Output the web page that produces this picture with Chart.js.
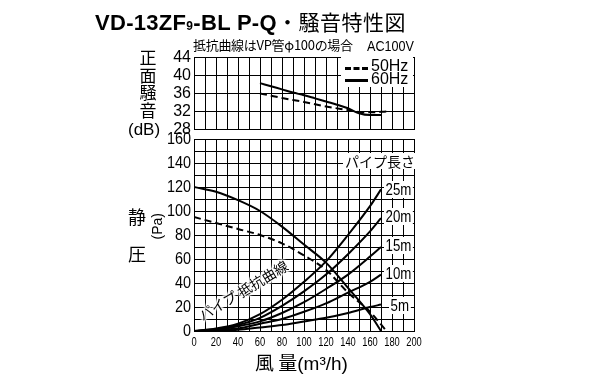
<!DOCTYPE html>
<html>
<head>
<meta charset="utf-8">
<script src="https://cdn.jsdelivr.net/npm/chart.js@4"></script>
<style>
  body { margin: 0; background: #fff; }
  #wrap { position: relative; width: 600px; height: 374px; overflow: hidden; background: #fff; }
  canvas { position: absolute; left: 0; top: 0; }
  .t { position: absolute; white-space: nowrap; color: #000; line-height: 1; }
  .jp { font-family: "Noto Sans CJK JP", sans-serif; }
  .ls { font-family: "Liberation Sans", sans-serif; }
  .wb { background: #fff; }
  .len { font-size: 17px; padding: 0 2px; transform: scaleX(0.78); transform-origin: left center; }
</style>
</head>
<body>
<div id="wrap">
  <canvas id="noise" width="600" height="374"></canvas>
  <canvas id="pq" width="600" height="374"></canvas>

  <div class="t" style="left:95px;top:6px;font:bold 22px 'Liberation Sans',sans-serif;letter-spacing:0.3px;">VD-13ZF<span style="font-size:12px;">9</span>-BL P-Q<span class="jp" style="font-weight:normal;font-size:21px;letter-spacing:0.5px;">・騒音特性図</span></div>

  <div class="t jp" style="left:193px;top:38px;font-size:13px;letter-spacing:-0.3px;">抵抗曲線はVP管φ100の場合</div>
  <div class="t ls" style="left:367px;top:39px;font-size:14px;transform:scaleX(0.9);transform-origin:left top;">AC100V</div>

  <div class="t jp" style="left:139px;top:48px;font-size:17px;line-height:17.7px;width:18px;text-align:center;">正<br>面<br>騒<br>音</div>
  <div class="t ls" style="left:128px;top:121px;font-size:17px;">(dB)</div>

  <div class="t jp" style="left:128px;top:207px;font-size:18px;">静</div>
  <div class="t jp" style="left:128px;top:244px;font-size:18px;">圧</div>
  <div class="t ls" style="left:150px;top:213px;font-size:14px;writing-mode:vertical-rl;transform:rotate(180deg);">(Pa)</div>

  <div class="t" style="left:255px;top:352px;font-size:19px;"><span class="jp">風 量</span><span class="ls">(m³/h)</span></div>

  <div class="t wb" style="left:341px;top:57px;width:72px;height:30px;"></div>
  <div class="t" style="left:345px;top:67px;width:23px;border-top:3px dashed #000;"></div>
  <div class="t" style="left:345px;top:79px;width:23px;border-top:3px solid #000;"></div>
  <div class="t ls" style="left:371px;top:59px;font-size:16px;line-height:13px;">50Hz<br>60Hz</div>

  <div class="t jp wb" style="left:343px;top:153px;font-size:14px;padding:1px 2px;">パイプ長さ</div>
  <div class="t ls wb len" style="left:384px;top:181px;">25m</div>
  <div class="t ls wb len" style="left:384px;top:208px;">20m</div>
  <div class="t ls wb len" style="left:384px;top:237px;">15m</div>
  <div class="t ls wb len" style="left:384px;top:265px;">10m</div>
  <div class="t ls wb len" style="left:389px;top:297px;">5m</div>

  <div class="t jp" style="left:196px;top:310px;font-size:14px;transform:rotate(-31deg);transform-origin:left top;text-shadow:0 0 2px #fff,0 0 2px #fff,0 0 3px #fff,0 0 3px #fff,2px 0 2px #fff,-2px 0 2px #fff,0 2px 2px #fff,0 -2px 2px #fff;">パイプ 抵抗曲線</div>
</div>

<script>
// 騒音 (上段)
const noiseX60 = [60, 70, 80, 90, 100, 110, 120, 130, 140, 150, 160, 170];
const noise60  = [38.2, 37.5, 36.8, 36.1, 35.5, 34.8, 34.1, 33.4, 32.6, 31.5, 31.1, 31.1];
const noiseX50 = [60, 80, 100, 120, 140, 150, 160, 175];
const noise50  = [35.9, 34.9, 34.0, 33.0, 32.2, 31.8, 31.7, 31.9];

// P-Q (下段)
const pqX60 = [0, 20, 40, 60, 80, 100, 120, 140, 160, 170];
const pq60  = [120, 116, 109, 100, 87, 72, 57, 36, 14, 0];
const pqX50 = [0, 20, 40, 60, 80, 100, 120, 140, 160, 175];
const pq50  = [95, 90, 85, 80, 73, 63, 51, 32, 16, 0];

// パイプ抵抗曲線
const pipeX = [0, 20, 40, 60, 80, 100, 120, 140, 160, 170];
const pipe25 = [0, 2, 6, 14, 26, 41, 58, 80, 104, 118];
const pipe20 = [0, 1, 5, 11, 21, 33, 47, 64, 83, 94];
const pipe15 = [0, 1, 4, 8, 15, 24, 35, 47, 62, 70];
const pipe10 = [0, 1, 2, 6, 10, 16, 23, 32, 41, 47];
const pipe5  = [0, 0, 1, 3, 5, 8, 11, 15, 20, 22];

const tickFamily = "'Liberation Sans', sans-serif";

function pts(xs, ys) {
  return xs.map((x, i) => ({ x: x, y: ys[i] }));
}

function line(xs, ys, dash) {
  return {
    data: pts(xs, ys),
    showLine: true,
    borderColor: "#000",
    borderWidth: 2,
    borderDash: dash || [],
    pointRadius: 0,
    cubicInterpolationMode: "monotone",
    fill: false
  };
}

// tick labels drawn by hand so the x labels can be squeezed like the original
const squeezedTicks = {
  id: "squeezedTicks",
  afterDraw(chart, args, opts) {
    const ctx = chart.ctx;
    const xs = chart.scales.x, ys = chart.scales.y;
    ctx.save();
    ctx.fillStyle = "#000";
    if (opts.xLabels) {
      ctx.font = "13px " + tickFamily;
      ctx.textAlign = "center";
      ctx.textBaseline = "top";
      xs.ticks.forEach(t => {
        if (t.value % 20 !== 0) return;
        ctx.save();
        ctx.translate(xs.getPixelForValue(t.value), xs.top + 5);
        ctx.scale(0.72, 1);
        ctx.fillText(String(t.value), 0, 0);
        ctx.restore();
      });
    }
    ctx.font = opts.ySize + "px " + tickFamily;
    ctx.textAlign = "right";
    ctx.textBaseline = "middle";
    ys.ticks.forEach(t => {
      if (t.value % opts.yEvery !== 0) return;
      ctx.save();
      ctx.translate(ys.right - 3, ys.getPixelForValue(t.value) + 1);
      ctx.scale(opts.yScale, 1);
      ctx.fillText(String(t.value), 0, 0);
      ctx.restore();
    });
    ctx.restore();
  }
};

function xAxis(h) {
  return {
    type: "linear",
    min: 0, max: 200,
    border: { color: "#000", width: 1 },
    grid: { color: "#000", lineWidth: 1, drawTicks: false },
    ticks: { display: false, stepSize: 10, autoSkip: false },
    afterFit: s => { s.height = h; }
  };
}

function yAxis(min, max, step) {
  return {
    min: min, max: max,
    border: { color: "#000", width: 1 },
    grid: { color: "#000", lineWidth: 1, drawTicks: false },
    ticks: { display: false, stepSize: step, autoSkip: false },
    afterFit: s => { s.width = 194; }
  };
}

new Chart(document.getElementById("noise"), {
  type: "scatter",
  data: {
    datasets: [
      line(noiseX50, noise50, [7, 4]),
      line(noiseX60, noise60)
    ]
  },
  options: {
    responsive: false,
    animation: false,
    layout: { padding: { left: 0, top: 57, right: 186, bottom: 245 } },
    plugins: {
      legend: { display: false },
      tooltip: { enabled: false },
      squeezedTicks: { xLabels: false, ySize: 16, yScale: 1, yEvery: 4 }
    },
    scales: { x: xAxis(0), y: yAxis(28, 44, 4) }
  },
  plugins: [squeezedTicks]
});

new Chart(document.getElementById("pq"), {
  type: "scatter",
  data: {
    datasets: [
      line(pqX60, pq60),
      line(pqX50, pq50, [7, 4]),
      line(pipeX, pipe25),
      line(pipeX, pipe20),
      line(pipeX, pipe15),
      line(pipeX, pipe10),
      line(pipeX, pipe5)
    ]
  },
  options: {
    responsive: false,
    animation: false,
    layout: { padding: { left: 0, top: 139, right: 186, bottom: 25 } },
    plugins: {
      legend: { display: false },
      tooltip: { enabled: false },
      squeezedTicks: { xLabels: true, ySize: 16, yScale: 0.9, yEvery: 20 }
    },
    scales: { x: xAxis(18), y: yAxis(0, 160, 10) }
  },
  plugins: [squeezedTicks]
});
</script>
</body>
</html>
